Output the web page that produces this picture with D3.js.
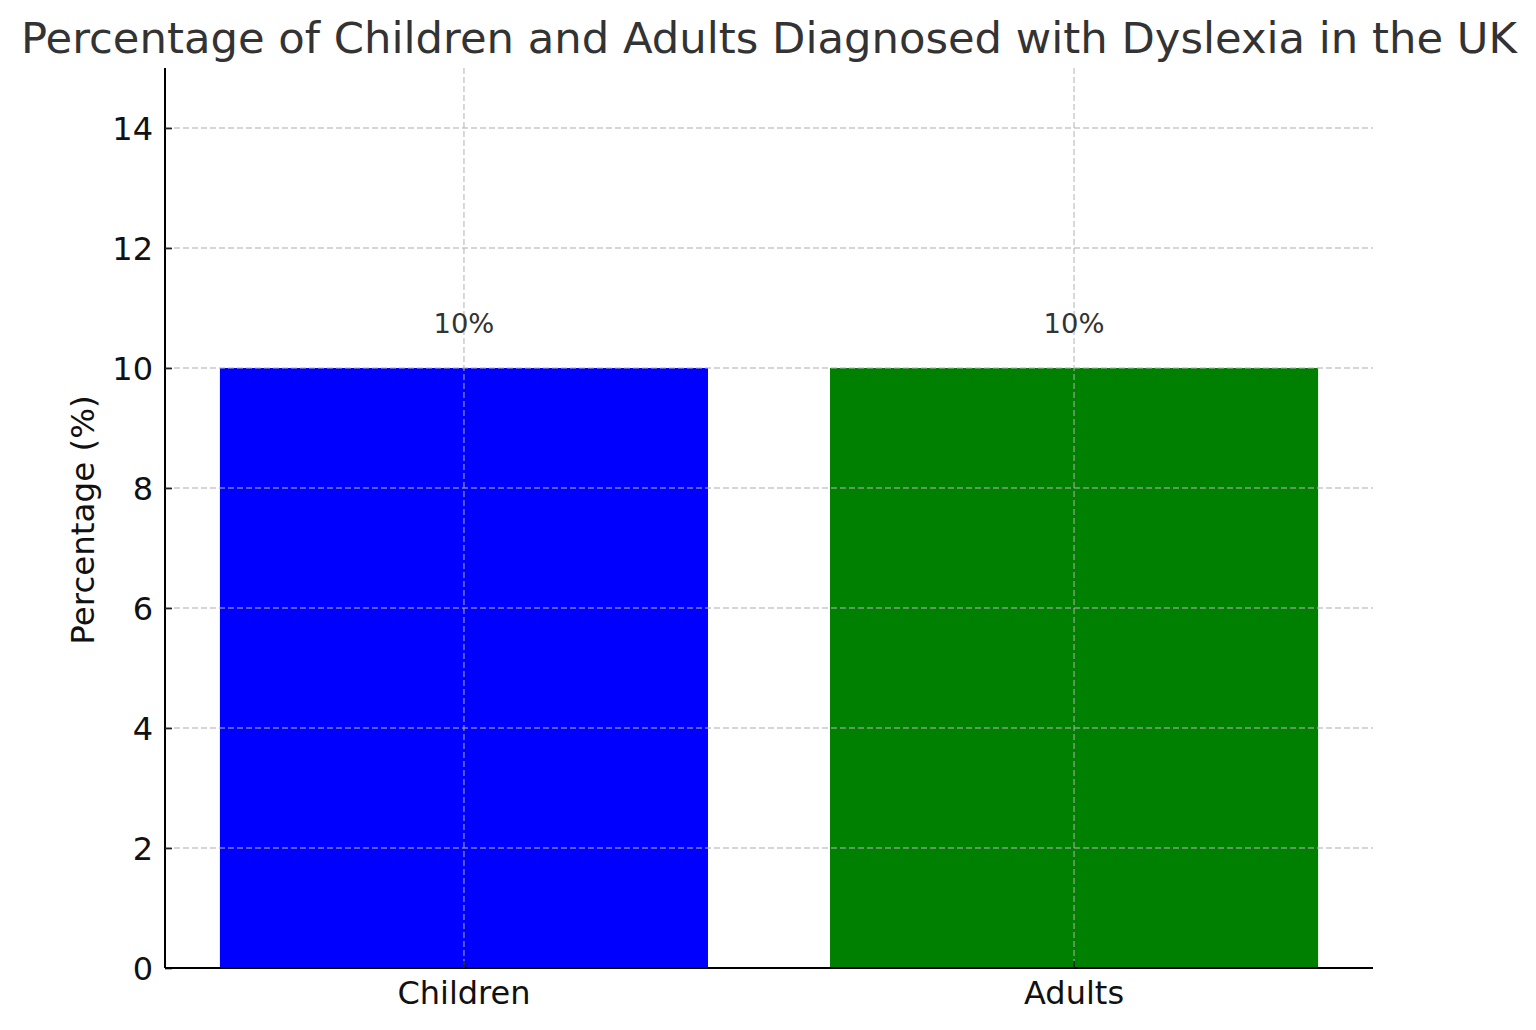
<!DOCTYPE html>
<html>
<head>
<meta charset="utf-8">
<script src="https://cdn.jsdelivr.net/npm/d3@7"></script>
<style>
  html, body { margin: 0; padding: 0; background: #fff; }
  svg { display: block; font-family: "DejaVu Sans", sans-serif; }
</style>
</head>
<body>
<svg id="chart" width="1536" height="1030"></svg>
<script>
const categories = ["Children", "Adults"];
const values = [10, 10];
const barColors = ["#0000ff", "#008000"];
const valueLabels = ["10%", "10%"];
const yTicks = [0, 2, 4, 6, 8, 10, 12, 14];
const titleText = "Percentage of Children and Adults Diagnosed with Dyslexia in the UK";
const yLabelText = "Percentage (%)";

const W = 1536, H = 1030;
const m = { left: 165, right: 1373, top: 68, bottom: 968 };
const svg = d3.select("#chart");

const x = d3.scaleBand().domain(categories).range([m.left, m.right])
  .paddingInner(0.2).paddingOuter(0.09).align(0.5);
const y = d3.scaleLinear().domain([0, 15]).range([m.bottom, m.top]);

// Bars
svg.append("g").selectAll("rect").data(categories).join("rect")
  .attr("x", d => x(d))
  .attr("width", x.bandwidth())
  .attr("y", (d, i) => y(values[i]))
  .attr("height", (d, i) => y(0) - y(values[i]))
  .attr("fill", (d, i) => barColors[i]);

// Grid (on top of bars)
const grid = svg.append("g").attr("stroke", "#b0b0b0").attr("stroke-opacity", 0.7)
  .attr("stroke-width", 1.4).attr("stroke-dasharray", "6,3").attr("fill", "none");
grid.selectAll("line.h").data(yTicks.filter(t => t > 0)).join("line")
  .attr("x1", m.left).attr("x2", m.right)
  .attr("y1", d => y(d)).attr("y2", d => y(d));
grid.selectAll("line.v").data(categories).join("line")
  .attr("x1", d => x(d) + x.bandwidth() / 2).attr("x2", d => x(d) + x.bandwidth() / 2)
  .attr("y1", m.top).attr("y2", m.bottom);

// Axes
const yAxis = d3.axisLeft(y).tickValues(yTicks).tickSize(-7).tickPadding(12).tickFormat(d3.format("d"));
const yg = svg.append("g").attr("transform", `translate(${m.left},0)`).call(yAxis);
yg.select(".domain").attr("stroke", "#000").attr("stroke-width", 2).attr("d", `M0,${m.top}V${m.bottom}`);
yg.selectAll(".tick line").attr("stroke", "#222").attr("stroke-width", 1.7);
yg.selectAll(".tick text").attr("font-size", 32).attr("fill", "#111")
  .attr("font-family", "DejaVu Sans").attr("dy", "0.36em");

const xAxis = d3.axisBottom(x).tickSize(-7).tickPadding(12);
const xg = svg.append("g").attr("transform", `translate(0,${m.bottom})`).call(xAxis);
xg.select(".domain").attr("stroke", "#000").attr("stroke-width", 2).attr("d", `M${m.left},0H${m.right}`);
xg.selectAll(".tick line").attr("stroke", "#222").attr("stroke-width", 1.7);
xg.selectAll(".tick text").attr("font-size", 32).attr("fill", "#111")
  .attr("font-family", "DejaVu Sans").attr("dy", "0.76em");

// Value labels
svg.append("g").selectAll("text").data(categories).join("text")
  .attr("x", d => x(d) + x.bandwidth() / 2)
  .attr("y", (d, i) => y(values[i] + 0.5) - 5)
  .attr("text-anchor", "middle")
  .attr("font-size", 27.4).attr("fill", "#333")
  .text((d, i) => valueLabels[i]);

// Title
svg.append("text").attr("x", (m.left + m.right) / 2).attr("y", 53)
  .attr("text-anchor", "middle").attr("font-size", 43.3).attr("fill", "#333")
  .text(titleText);

// Y label
svg.append("text").attr("transform", `translate(94,${(m.top + m.bottom) / 2 + 2}) rotate(-90)`)
  .attr("text-anchor", "middle").attr("font-size", 32.5).attr("fill", "#111")
  .text(yLabelText);
</script>
</body>
</html>
